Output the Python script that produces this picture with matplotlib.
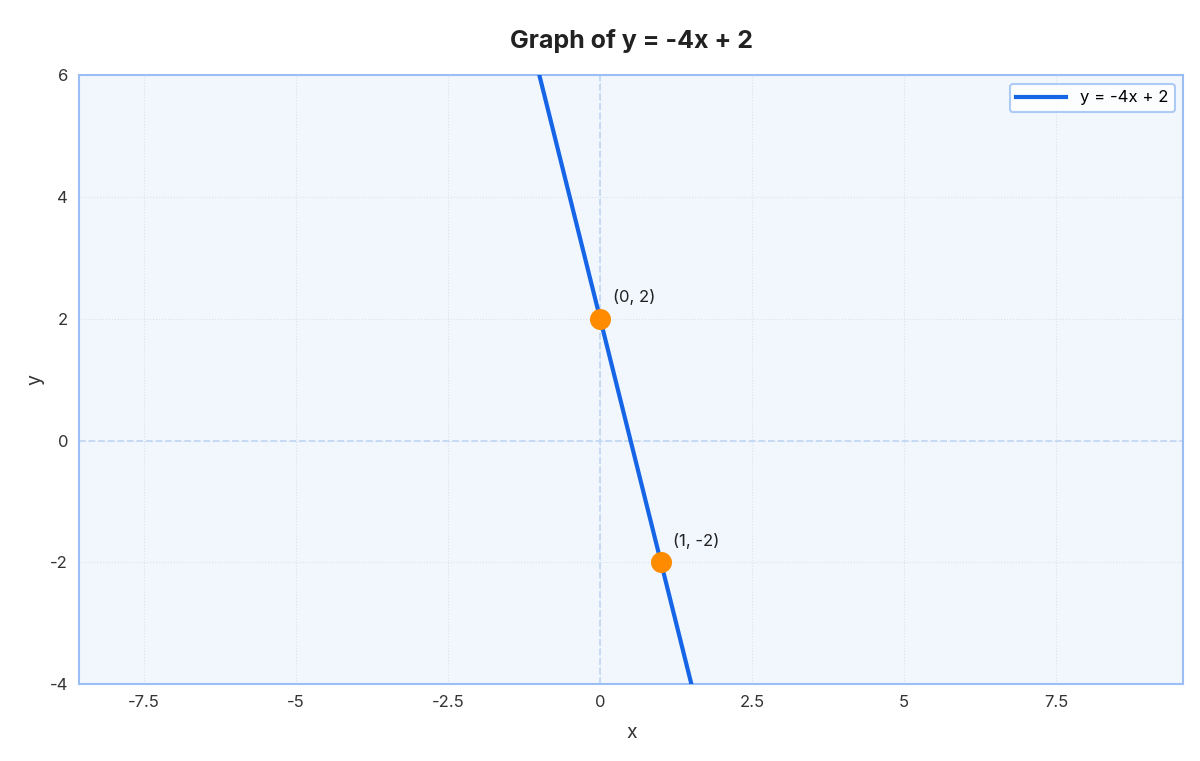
import matplotlib
matplotlib.use("Agg")
import matplotlib.pyplot as plt
import numpy as np

line_x = [-1.0, 1.5]
line_y = [6.0, -4.0]
pts_x = [0, 1]
pts_y = [2, -2]
pt_labels = ["(0, 2)", "(1, -2)"]
xticks = [-7.5, -5, -2.5, 0, 2.5, 5, 7.5]
xtick_labels = ["-7.5", "-5", "-2.5", "0", "2.5", "5", "7.5"]
yticks = [-4, -2, 0, 2, 4, 6]
ytick_labels = ["-4", "-2", "0", "2", "4", "6"]

plt.rcParams['font.family'] = ['Inter', 'DejaVu Sans']
plt.rcParams['axes.unicode_minus'] = False
fig = plt.figure(figsize=(12, 7.61), dpi=100)
ax = fig.add_axes([0.066, 0.101, 0.92, 0.8])
ax.set_facecolor('#f2f7fe')
ax.set_xlim(-8.57, 9.59)
ax.set_ylim(-4, 6)
for s in ax.spines.values():
    s.set_color('#9bbff5'); s.set_linewidth(1.5)
ax.grid(True, linestyle=':', color='#d8e2ee', linewidth=0.8)
ax.axhline(0, color='#c3d8f3', linestyle='--', linewidth=1.3)
ax.axvline(0, color='#c3d8f3', linestyle='--', linewidth=1.3)
ax.plot(line_x, line_y, color='#1565e6', linewidth=3, label='y = -4x + 2', zorder=3)
ax.scatter(pts_x, pts_y, s=200, color='#ff8c00', zorder=4)
for x, y, t in zip(pts_x, pts_y, pt_labels):
    ax.annotate(t, (x, y), xytext=(9, 12), textcoords='offset points', fontsize=12, color='#222222')
ax.set_xticks(xticks)
ax.set_xticklabels(xtick_labels)
ax.set_yticks(yticks)
ax.set_yticklabels(ytick_labels)
ax.tick_params(length=0, labelsize=12, colors='#333333', pad=8)
ax.set_xlabel('x', fontsize=14, color='#333333', labelpad=10)
ax.set_ylabel('y', fontsize=14, color='#333333')
ax.set_title('Graph of y = -4x + 2', fontsize=18, fontweight='bold', color='#222222', pad=20)
leg = ax.legend(loc='upper right', fontsize=12, frameon=True, handlelength=3)
leg.get_frame().set_edgecolor('#9bbff5')
leg.get_frame().set_linewidth(1.5)
fig.savefig('out.png', dpi=100)
